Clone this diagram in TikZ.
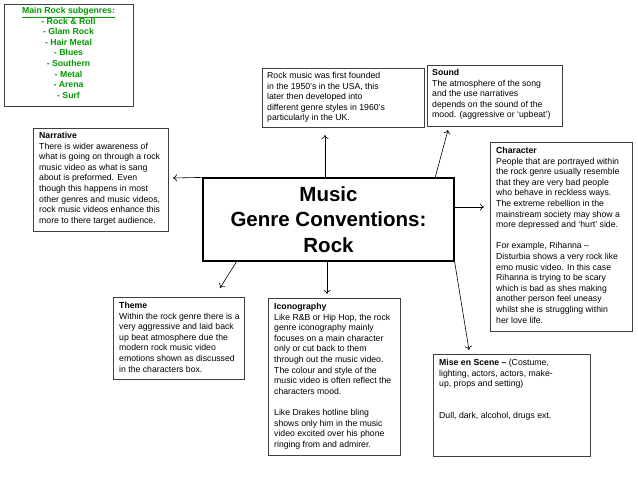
\documentclass[tikz,border=0pt]{standalone}
\usepackage{fontspec}
\setmainfont{Liberation Sans}
\usetikzlibrary{arrows.meta}
\begin{document}
\begin{tikzpicture}[x=1pt,y=-1pt,
  bx/.style={draw=black!75,line width=0.6pt},
  tx/.style={anchor=north west,align=left,inner sep=0pt,font=\fontsize{8.7}{10.6}\selectfont},
  ar/.style={-{To[length=4pt,width=7pt]},line width=0.6pt}]
\useasboundingbox[fill=white] (0,0) rectangle (638,478);
% subgenres
\draw[bx] (4,4) rectangle (133,106);
\node[tx,anchor=north,align=center,text=green!60!black,font=\bfseries\fontsize{8.7}{10.6}\selectfont] (sub) at (68.5,7)
 {\underline{Main Rock subgenres:}\\- Rock \& Roll\\- Glam Rock\\- Hair Metal\\- Blues\\- Southern\\- Metal\\- Arena\\- Surf};
% founded
\draw[bx] (262,68) rectangle (424,127);
\node[tx] (fnd) at (267,72) {Rock music was first founded\\in the 1950's in the USA, this\\later then developed into\\different genre styles in 1960's\\particularly in the UK.};
% sound
\draw[bx] (427,65) rectangle (562,126);
\node[tx] (snd) at (432,69) {\textbf{Sound}\\The atmosphere of the song\\and the use narratives\\depends on the sound of the\\mood. (aggressive or `upbeat')};
% narrative
\draw[bx] (33,128) rectangle (168,231);
\node[tx] (nar) at (39,132) {\textbf{Narrative}\\There is wider awareness of\\what is going on through a rock\\music video as what is sang\\about is preformed. Even\\though this happens in most\\other genres and music videos,\\rock music videos enhance this\\more to there target audience.};
% center
\node[draw,line width=1.2pt,minimum width=251pt,minimum height=83pt,align=center,font=\bfseries\fontsize{20.5}{25.5}\selectfont] (c) at (328.5,219.5) {Music\\Genre Conventions:\\Rock};
% character
\draw[bx] (490,142) rectangle (632,331);
\node[tx] (chr) at (496,147) {\textbf{Character}\\People that are portrayed within\\the rock genre usually resemble\\that they are very bad people\\who behave in reckless ways.\\The extreme rebellion in the\\mainstream society may show a\\more depressed and `hurt' side.\\[10.6pt]For example, Rihanna --\\Disturbia shows a very rock like\\emo music video. In this case\\Rihanna is trying to be scary\\which is bad as shes making\\another person feel uneasy\\whilst she is struggling within\\her love life.};
% theme
\draw[bx] (113,297) rectangle (244,379);
\node[tx] (thm) at (119,302) {\textbf{Theme}\\Within the rock genre there is a\\very aggressive and laid back\\up beat atmosphere due the\\modern rock music video\\emotions shown as discussed\\in the characters box.};
% iconography
\draw[bx] (268,298) rectangle (400,455);
\node[tx] (ico) at (274,303) {\textbf{Iconography}\\Like R\&B or Hip Hop, the rock\\genre iconography mainly\\focuses on a main character\\only or cut back to them\\through out the music video.\\The colour and style of the\\music video is often reflect the\\characters mood.\\[10.6pt]Like Drakes hotline bling\\shows only him in the music\\video excited over his phone\\ringing from and admirer.};
% mise
\draw[bx] (433,354) rectangle (590,456);
\node[tx] (mis) at (439,359) {\textbf{Mise en Scene --} (Costume,\\lighting, actors, actors, make-\\up, props and setting)\\[21.2pt]Dull, dark, alcohol, drugs ext.};
% arrows
\coordinate (t1) at (325,135);
\coordinate (t2) at (173,178);
\coordinate (t3) at (448,130);
\coordinate (t4) at (484,207);
\coordinate (t5) at (220,288);
\coordinate (t6) at (327,294);
\coordinate (t7) at (469,350);
\draw[ar] (c.north -| t1) -- (t1);
\draw[ar] (c.north west) -- (t2);
\draw[ar] (435,178) -- (t3);
\draw[ar] (c.east |- t4) -- (t4);
\draw[ar] (237,261) -- (t5);
\draw[ar] (c.south -| t6) -- (t6);
\draw[ar] (c.south east) -- (t7);
\end{tikzpicture}
\end{document}
